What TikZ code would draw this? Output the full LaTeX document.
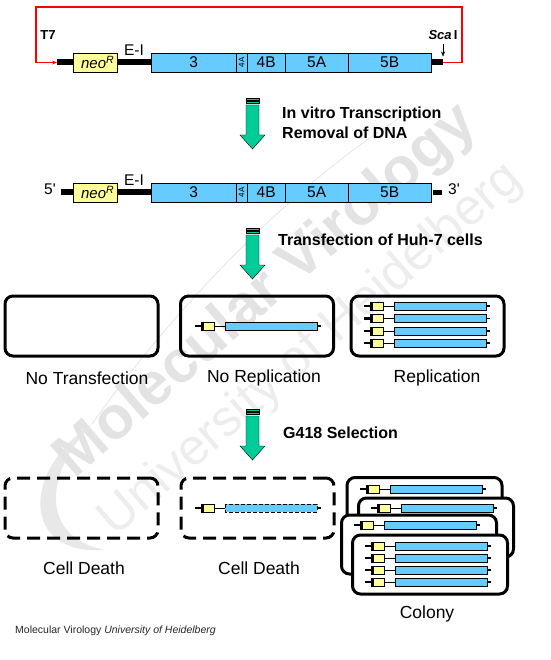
\documentclass[tikz,border=0pt]{standalone}
\usepackage{fontspec}
\setmainfont{Liberation Sans}
\usetikzlibrary{arrows.meta}

\definecolor{hcvblue}{HTML}{66CCFF}
\definecolor{neoyellow}{HTML}{FFFF99}
\definecolor{arrowgreen}{HTML}{00CC99}

\newcommand{\fsize}[1]{\fontsize{#1}{#1}\selectfont}

% small replicon, tick starting at (#2,#3); #1 styles the RNA box
\newcommand{\replicon}[3][]{%
  \draw [line width=2.5pt] (#2,#3) -- ++(7,0);
  \draw [fill=neoyellow] (#2+6,#3-4) rectangle ++(13,8);
  \fill (#2+6,#3-4) rectangle ++(3,8);
  \draw (#2+19,#3) -- ++(11,0);
  \draw [fill=hcvblue, #1] (#2+30,#3-4) rectangle ++(92,8);
  \draw [line width=1.5pt] (#2+122,#3) -- ++(4,0);
}

\begin{document}
\begin{tikzpicture}[x=1pt, y=-1pt,
    dna/.style={line width=6pt},
    seg/.style={draw, fill=hcvblue, minimum height=19pt, inner sep=0pt,
      anchor=west, font=\fsize{15.5}},
    neo/.style={draw, fill=neoyellow, minimum width=44pt, minimum height=19pt,
      inner sep=0pt, anchor=west, font=\fsize{15},
      path picture={\fill (path picture bounding box.south west)
        rectangle ([xshift=5pt]path picture bounding box.north west);}},
    cell/.style={draw, line width=3pt, rounded corners=8pt,
      minimum width=153pt, minimum height=60pt, inner sep=0pt},
    dead/.style={cell, dash pattern=on 13pt off 7pt},
    colbox/.style={cell, fill=white, minimum width=155pt, minimum height=59pt},
    caption/.style={font=\fsize{17.5}},
    steptext/.style={anchor=west, inner sep=0pt, align=left,
      font=\bfseries\fontsize{16}{20}\selectfont}]
  \useasboundingbox (0,0) rectangle (550,660);

  % Watermark
  \fill [black!9] (105,550) .. controls (20,556) and (22,470) .. (92,424)
    .. controls (42,476) and (42,538) .. (105,550) -- cycle;
  \draw [black!10, line width=0.8pt] (92,424) .. controls (180,300) and (300,180) .. (400,118);
  \node [rotate=41, text=black!11, font=\bfseries\fsize{60}] (wmlab)
    at (267,292) {Molecular Virology};
  \node [rotate=41, text=black!7, font=\fsize{51}] (wmuni)
    at (311,350) {University of Heidelberg};

  % Plasmid and RNA
  \foreach \r/\y in {1/62.5, 2/192.5} {
    \node [neo] (neo\r) at (73,\y)
      {\hspace{5pt}\textit{neo}\textsuperscript{\textit{R}}};
    \foreach \a/\b/\lab [count=\i] in {151/236/3,
        236/247/{\rotatebox{90}{\fsize{8}4A}}, 247/285/4B, 285/348/5A, 348/431/5B}
      \node [seg, minimum width={(\b-\a)*1pt}] (seg\r-\i) at (\a,\y) {\lab};
    \draw [dna] (neo\r.east) -- (seg\r-1.west);
    \node [font=\fsize{15.5}] (ei\r) at (134,\y-12) {E-I};
  }

  % T7 promoter and Sca I site
  \coordinate (t7) at (57,62.5);
  \coordinate (sca) at (443,62.5);
  \draw [dna] (t7) -- (neo1.west);
  \draw [dna] (seg1-5.east) -- (sca);
  \node [font=\bfseries\fsize{13}] (t7lab) at (48,35) {T7};
  \node [font=\bfseries\fsize{13}] (scalab) at (443,35) {\textit{Sca}\,I};
  \draw [-{Stealth[length=5pt, width=4pt]}, shorten <=1pt, shorten >=6pt]
    (scalab.south) -- (sca);
  \draw [red, line width=1.2pt, -{Stealth[length=5pt, width=4pt]}]
    (sca) -- ++(19,0) |- (36,7) |- (t7);

  % RNA ends
  \node [font=\fsize{15.5}] (five) at (50,189) {5\textquotesingle};
  \node [font=\fsize{15.5}] (three) at (454,189) {3\textquotesingle};
  \draw [dna, shorten <=2pt] (five.east |- neo2.west) -- (neo2.west);
  \draw [line width=5pt, shorten <=2pt, shorten >=3pt]
    (seg2-5.east) -- (three.west |- seg2-5.east);

  % Arrows
  \foreach \t in {98,228,409} {
    \draw [fill=arrowgreen] (246,\t) rectangle (259,\t+2);
    \draw [fill=arrowgreen] (246,\t+3) rectangle (259,\t+5);
    \draw [fill=arrowgreen] (246,\t+7) -- (246,\t+37) -- (240,\t+37)
      -- (252.5,\t+51) -- (265,\t+37) -- (259,\t+37) -- (259,\t+7) -- cycle;
  }
  \node [steptext] (ivt) at (282,123) {In vitro Transcription\\Removal of DNA};
  \node [steptext] (tfx) at (278,240) {Transfection of Huh-7 cells};
  \node [steptext] (g418) at (283,433) {G418 Selection};

  % Transfected cells
  \node [cell] (notf) at (81.5,326) {};
  \node [cell] (norep) at (257,326) {};
  \node [cell] (rep) at (427.5,326) {};
  \node [caption] (notflab) at (87,378) {No Transfection};
  \node [caption] (noreplab) at (264,378) {No Replication};
  \node [caption] (replab) at (437,378) {Replication};
  \replicon{195}{326}
  \foreach \y in {306,318.5,331,343} {\replicon{364}{\y}}

  % After selection
  \node [dead] (dead1) at (81.5,508) {};
  \node [dead] (dead2) at (257.5,508) {};
  \node [caption] (deadlab1) at (84,568) {Cell Death};
  \node [caption] (deadlab2) at (259,568) {Cell Death};
  \replicon[dash pattern=on 4pt off 2pt]{195}{508}

  % Colony
  \node [colbox] (colA) at (424.5,507) {};
  \replicon{360}{489}
  \node [colbox] (colB) at (436,527.5) {};
  \replicon{371}{508}
  \node [colbox] (colC) at (419,544.5) {};
  \replicon{354}{525}
  \node [colbox] (colD) at (430,564.5) {};
  \foreach \y in {546,558,570,582} {\replicon{365}{\y}}
  \node [caption] (collab) at (427,614) {Colony};

  % Credit
  \node [anchor=west, inner sep=0pt, text=black!85, font=\fsize{10.5}] (credit)
    at (15,631) {Molecular Virology \textit{University of Heidelberg}};
\end{tikzpicture}
\end{document}
